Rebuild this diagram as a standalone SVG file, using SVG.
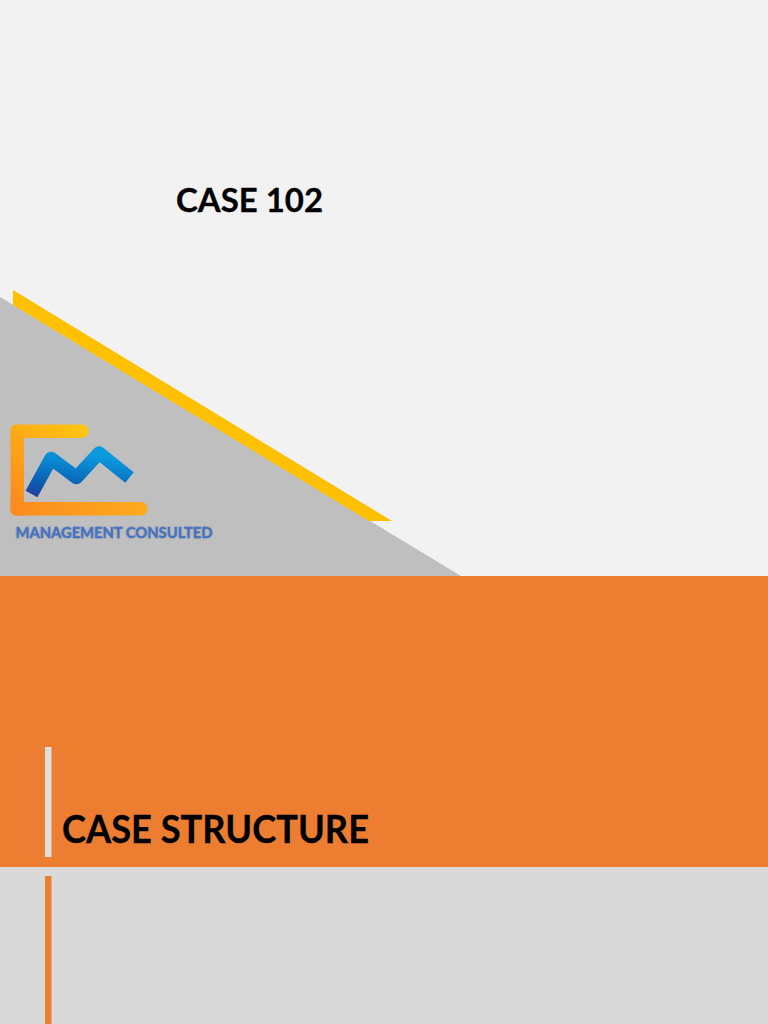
<svg xmlns="http://www.w3.org/2000/svg" width="768" height="1024" viewBox="0 0 768 1024">
<style>
text{font-family:Lato,"Open Sans","Liberation Sans",sans-serif;font-weight:700}
.t{fill:#000;stroke:#000;stroke-width:0.3}
.m{font-size:14.5px}
</style>
<defs>
<linearGradient id="o2" gradientUnits="userSpaceOnUse" x1="10" y1="500" x2="85" y2="425"><stop offset="0" stop-color="#fb8b1f"/><stop offset="1" stop-color="#ffc80f"/></linearGradient>
<linearGradient id="o3" gradientUnits="userSpaceOnUse" x1="10" y1="508" x2="148" y2="508"><stop offset="0" stop-color="#fb8b1f"/><stop offset="1" stop-color="#fdab1d"/></linearGradient>
<linearGradient id="b" gradientUnits="userSpaceOnUse" x1="35" y1="498" x2="42" y2="448"><stop offset="0" stop-color="#2a3a9c"/><stop offset="0.3" stop-color="#0a5cb0"/><stop offset="1" stop-color="#0a9ade"/></linearGradient>
<filter id="s" x="-5%" y="-20%" width="110%" height="140%"><feGaussianBlur stdDeviation="0.8"/></filter>
</defs>
<rect width="768" height="1024" fill="#f2f2f2"/>
<polygon id="grey-triangle" points="0,297 461,576 0,576" fill="#bfbfbf"/>
<polygon id="yellow-stripe" points="13,290 392,521 369,521 13,305" fill="#ffc000"/>
<rect id="orange-band" x="0" y="576" width="768" height="291" fill="#ed7d31"/>
<rect id="grey-band" x="0" y="867" width="768" height="157" fill="#d9d9d9"/>
<rect id="bar-light" x="45" y="747" width="6.500" height="110" fill="#dedede"/>
<rect id="bar-orange" x="45" y="876" width="6.500" height="148" fill="#ed7d31"/>
<g id="logo">
<path d="M88.500 431 a6.500 6.500 0 0 0 -6.500 -6.500 H16 a5.500 5.500 0 0 0 -5.500 5.500 V510 a5.500 5.500 0 0 0 5.500 5.500 H24 V438 H82 a6.500 6.500 0 0 0 6.500 -7 z" fill="url(#o2)"/>
<path d="M16 502 H141 a6.750 6.750 0 0 1 0 13.500 H16 a5.500 5.500 0 0 1 -5.500 -5.500 V502 z" fill="url(#o3)"/>
<polyline points="31.500,494 51,458.500 76.500,477.500 99,453 129.500,477.500" fill="none" stroke="url(#b)" stroke-width="13.500" stroke-linejoin="round"/>
<text class="m" x="15.500" y="538" textLength="197" lengthAdjust="spacingAndGlyphs" fill="#808080" opacity="0.700" filter="url(#s)">MANAGEMENT CONSULTED</text>
<text class="m" x="15.500" y="537.500" textLength="197" lengthAdjust="spacingAndGlyphs" fill="#4472c4" stroke="#4472c4" stroke-width="0.3">MANAGEMENT CONSULTED</text>
</g>
<text id="title" class="t" x="176" y="212" font-size="32" textLength="147" lengthAdjust="spacingAndGlyphs">CASE 102</text>
<text id="heading" class="t" x="62" y="843" font-size="37.500" textLength="307" lengthAdjust="spacingAndGlyphs">CASE STRUCTURE</text>
</svg>
